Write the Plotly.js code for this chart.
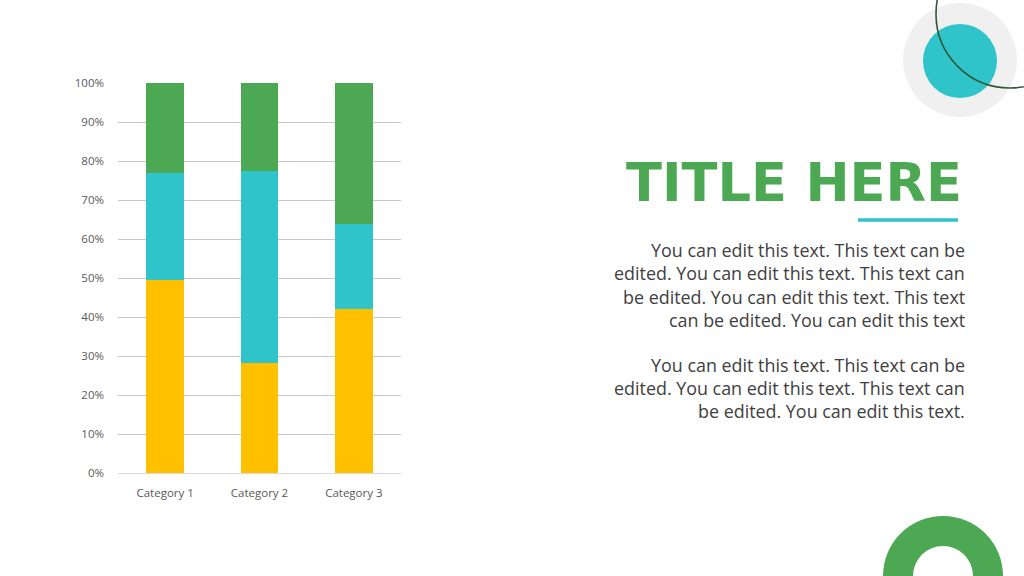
<!DOCTYPE html>
<html>
<head>
<meta charset="utf-8">
<script src="https://cdn.plot.ly/plotly-3.0.1.min.js"></script>
<style>
  html, body { margin: 0; padding: 0; background: #fff; }
  #chart { width: 1024px; height: 576px; }
</style>
</head>
<body>
<div id="chart"></div>
<script>
// chart data (percent stacked, each category sums to 100%)
const categories = ["Category 1", "Category 2", "Category 3"];
const series1 = [4.3, 2.5, 3.5];
const series2 = [2.4, 4.4, 1.8];
const series3 = [2, 2, 3];
const seriesColors = ["#FFC000", "#2EC4CA", "#4CA853"];
const yTicks = [0, 10, 20, 30, 40, 50, 60, 70, 80, 90, 100];

const titleText = "TITLE HERE";
const para1 = [
    "You can edit this text. This text can be",
    "edited. You can edit this text. This text can",
    "be edited. You can edit this text. This text",
    "can be edited. You can edit this text",
];
const para2 = [
    "You can edit this text. This text can be",
    "edited. You can edit this text. This text can",
    "be edited. You can edit this text.",
];

// plot area in pixels
const W = 1024, H = 576;
const plotL = 118, plotR = 401, plotT = 83, plotB = 473;

function px(x) {
    return (x - plotL) / (plotR - plotL);
}
function py(y) {
    return (plotB - y) / (plotB - plotT);
}

function circle(cx, cy, r, fill, line) {
    return {
        type: "circle",
        xref: "paper",
        yref: "paper",
        x0: px(cx - r),
        x1: px(cx + r),
        y0: py(cy + r),
        y1: py(cy - r),
        fillcolor: fill,
        line: line || { width: 0 },
        layer: "above",
    };
}

const data = [series1, series2, series3].map((vals, i) => ({
    type: "bar",
    x: categories,
    y: vals,
    name: "Series " + (i + 1),
    marker: { color: seriesColors[i], line: { width: 0 } },
    width: 0.4,
    hoverinfo: "skip",
}));

const annotations = [];
annotations.push({
    xref: "paper",
    yref: "paper",
    x: px(964),
    y: py(182),
    xanchor: "right",
    yanchor: "middle",
    text: "<b>" + titleText + "</b>",
    showarrow: false,
    font: { family: "DejaVu Sans", size: 52.7, color: "#4CA853" },
});

const lineFont = { family: "Open Sans", size: 17.9, color: "#404040" };
const para1Y = [250, 273, 297, 320];
const para2Y = [365, 388, 411];
para1.forEach((t, i) => {
    annotations.push({
        xref: "paper", yref: "paper",
        x: px(967), y: py(para1Y[i]),
        xanchor: "right", yanchor: "middle",
        text: t, showarrow: false, font: lineFont,
    });
});
para2.forEach((t, i) => {
    annotations.push({
        xref: "paper", yref: "paper",
        x: px(967), y: py(para2Y[i]),
        xanchor: "right", yanchor: "middle",
        text: t, showarrow: false, font: lineFont,
    });
});

const shapes = [
    // top-right decoration
    circle(960, 60, 57, "#F0F0F0"),
    circle(960, 61, 37, "#2EC4CA"),
    circle(1010, 14, 74, "rgba(0,0,0,0)", { color: "#2F5A36", width: 1.6 }),
    // bottom-right ring
    circle(943, 576, 60, "#4CA853"),
    circle(943, 576, 30, "#FFFFFF"),
    // cyan underline below title
    {
        type: "line",
        xref: "paper",
        yref: "paper",
        x0: px(858),
        x1: px(958),
        y0: py(220),
        y1: py(220),
        line: { color: "#2EC4CA", width: 3.5 },
        layer: "above",
    },
];

const layout = {
    width: W,
    height: H,
    margin: { l: plotL, r: W - plotR, t: plotT, b: H - plotB, pad: 0 },
    paper_bgcolor: "#FFFFFF",
    plot_bgcolor: "#FFFFFF",
    barmode: "stack",
    barnorm: "percent",
    showlegend: false,
    font: { family: "Open Sans", size: 11.5, color: "#595959" },
    xaxis: {
        type: "category",
        showgrid: false,
        showline: true,
        linecolor: "#D9D9D9",
        linewidth: 1,
        ticks: "",
        ticklabelstandoff: 9,
        tickfont: { family: "Open Sans", size: 11.5, color: "#595959" },
        fixedrange: true,
    },
    yaxis: {
        range: [0, 100],
        tickvals: yTicks,
        ticktext: yTicks.map((v) => v + "%"),
        showgrid: true,
        gridcolor: "#C9C9C9",
        gridwidth: 1,
        zeroline: false,
        showline: false,
        ticks: "",
        ticklabelstandoff: 13,
        tickfont: { family: "Open Sans", size: 11.5, color: "#595959" },
        fixedrange: true,
    },
    annotations: annotations,
    shapes: shapes,
};

Plotly.newPlot("chart", data, layout, { displayModeBar: false, staticPlot: true });
</script>
</body>
</html>
